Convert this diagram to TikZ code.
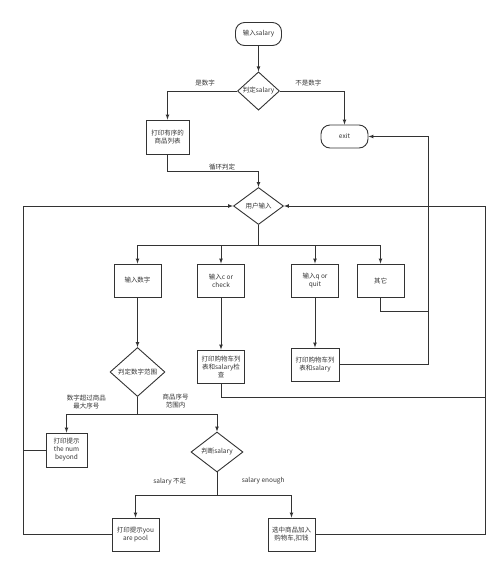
\documentclass[tikz,border=0pt]{standalone}
\usepackage{fontspec}
\setmainfont{Noto Sans CJK SC}
\usetikzlibrary{shapes,arrows,positioning}
\definecolor{lncol}{HTML}{333333}

\begin{document}
\begin{tikzpicture}[x=1pt, y=-1pt, on grid, >=latex, color=lncol, line width=0.7pt,
  font=\fontsize{6.5}{8}\selectfont,
  term/.style={rectangle, rounded corners=9pt, draw, line width=0.9pt, minimum width=46pt, minimum height=23pt},
  box/.style={rectangle, draw, line width=0.9pt, minimum width=47pt, minimum height=33pt, inner sep=1pt, align=center},
  test/.style={diamond, draw, line width=0.9pt, inner sep=0pt},
  lbl/.style={inner sep=1pt, align=center}]
  \useasboundingbox (0,0) rectangle (500,566);

  \node[term] (start) at (258.5,34) {输入salary};
  \node[test, minimum width=42pt, minimum height=32pt, below=57pt of start] (judge) {判定salary};
  \node[box, minimum width=43pt, minimum height=34pt, below left=46pt and 91pt of judge] (list) {打印有序的\\商品列表};
  \node[term, minimum width=47pt, below right=45.5pt and 86pt of judge] (exit) {exit};
  \node[test, minimum width=50pt, minimum height=37pt, below=115pt of judge] (userin) {用户输入};

  \node[box, below left=74.5pt and 121pt of userin] (num) {输入数字};
  \node[box, below left=74.5pt and 37.5pt of userin] (chk) {输入c or\\check};
  \node[box, below right=74.5pt and 56.5pt of userin] (quit) {输入q or\\quit};
  \node[box, below right=74.5pt and 122pt of userin] (other) {其它};

  \node[test, minimum width=55pt, minimum height=49pt, below=91.5pt of num] (range) {判定数字范围};
  \node[box, below=86pt of chk] (chkbox) {打印购物车列\\表和salary检\\查};
  \node[box, minimum width=48pt, below=84pt of quit] (quitbox) {打印购物车列\\表和salary};

  \node[box, minimum width=41pt, minimum height=34pt, below left=78pt and 71pt of range] (beyond) {打印提示\\the num\\beyond};
  \node[test, minimum width=52pt, minimum height=40pt, below right=80pt and 79.5pt of range] (salj) {判断salary};
  \node[box, below left=82.5pt and 81.5pt of salj] (poor) {打印提示you\\are pool};
  \node[box, below right=82.5pt and 74.5pt of salj] (add) {选中商品加入\\购物车,扣钱};

  % helper points
  \coordinate[below=20pt of userin.south] (fork1);
  \coordinate[below=17.5pt of range.south] (fork2);
  \coordinate[below=23pt of salj.south] (fork3);
  \coordinate[right=60pt of exit.east] (exitin);
  \coordinate[right=201pt of userin.east] (rloop);
  \coordinate[left=210pt of userin.west] (lloop);

  \draw[->] (start) -- (judge);
  \draw[->] (judge) -| node[lbl, pos=0.23, above=3.5pt] {是数字} (list);
  \draw[->] (judge) -| node[lbl, pos=0.22, above=3.5pt] {不是数字} (exit);
  \draw[->] (list.south) -- ++(0pt,-17pt) -| node[lbl, pos=0.3, above=0pt] {循环判定} (userin);

  \draw (userin) -- (fork1);
  \draw[->] (fork1) -| (num);
  \draw[->] (fork1) -| (chk);
  \draw[->] (fork1) -| (quit);
  \draw[->] (fork1) -| (other);

  \draw[->] (num) -- (range);
  \draw[->] (chk) -- (chkbox);
  \draw[->] (quit) -- (quitbox);
  \draw[->] (other.south) -- ++(0pt,-14pt) -| (exitin) -- (exit);
  \draw (quitbox) -| (exitin);
  \draw (chkbox.south) -- ++(0pt,-14pt) -| (rloop);

  \draw (range) -- (fork2);
  \draw[->] (fork2) -| node[lbl, pos=0.36, above=4pt] {数字超过商品\\最大序号} (beyond);
  \draw[->] (fork2) -| node[lbl, pos=0.24, above=5pt] {商品序号\\范围内} (salj);

  \draw (salj) -- (fork3);
  \draw[->] (fork3) -| node[lbl, pos=0.29, above=9.5pt] {salary 不足} (poor);
  \draw[->] (fork3) -| node[lbl, pos=0.31, above=9.5pt] {salary enough} (add);

  \draw (beyond) -- (beyond -| lloop);
  \draw[->] (poor) -| (lloop) -- (userin);
  \draw[->] (add) -| (rloop) -- (userin);
\end{tikzpicture}
\end{document}
